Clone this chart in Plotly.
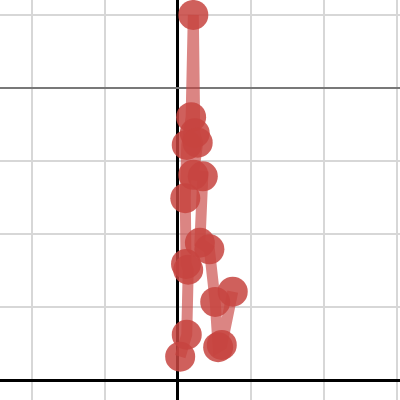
import plotly.graph_objects as go

# points in plot order (x, y)
x_vals = [0.03, 0.12, 0.14, 0.11, 0.10, 0.12, 0.18, 0.21, 0.23, 0.27,
          0.21, 0.34, 0.30, 0.43, 0.51, 0.55, 0.60, 0.75]
y_vals = [0.32, 0.62, 1.51, 1.59, 2.49, 3.22, 3.60, 5.00, 3.38, 3.25,
          2.81, 2.79, 1.88, 1.79, 1.07, 0.45, 0.48, 1.21]
ref_y = 4

red = "#c74440"
x_range = [-2.438, 3.041]
y_range = [-0.274, 5.205]

fig = go.Figure()
# grey horizontal reference line
fig.add_trace(go.Scatter(
    x=x_range, y=[ref_y, ref_y], mode="lines",
    line=dict(color="rgb(120,120,120)", width=2),
    hoverinfo="skip", showlegend=False,
))
fig.add_trace(go.Scatter(
    x=x_vals, y=y_vals, mode="lines+markers",
    line=dict(color="rgba(199,68,64,0.65)", width=11),
    marker=dict(color=red, size=30, opacity=0.85, line=dict(width=0)),
    hoverinfo="skip", showlegend=False,
))

fig.update_xaxes(range=x_range, dtick=1, tick0=0, showgrid=True,
                 gridcolor="rgb(215,215,215)", gridwidth=2,
                 zeroline=True, zerolinecolor="black", zerolinewidth=3,
                 showticklabels=False, showline=False)
fig.update_yaxes(range=y_range, dtick=1, tick0=0, showgrid=True,
                 gridcolor="rgb(215,215,215)", gridwidth=2,
                 zeroline=True, zerolinecolor="black", zerolinewidth=3,
                 showticklabels=False, showline=False)
fig.update_layout(width=400, height=400, margin=dict(l=0, r=0, t=0, b=0),
                  plot_bgcolor="white", paper_bgcolor="white")
fig.write_html("out.html", config={"displayModeBar": False},
               post_script="document.body.style.margin='0';")
